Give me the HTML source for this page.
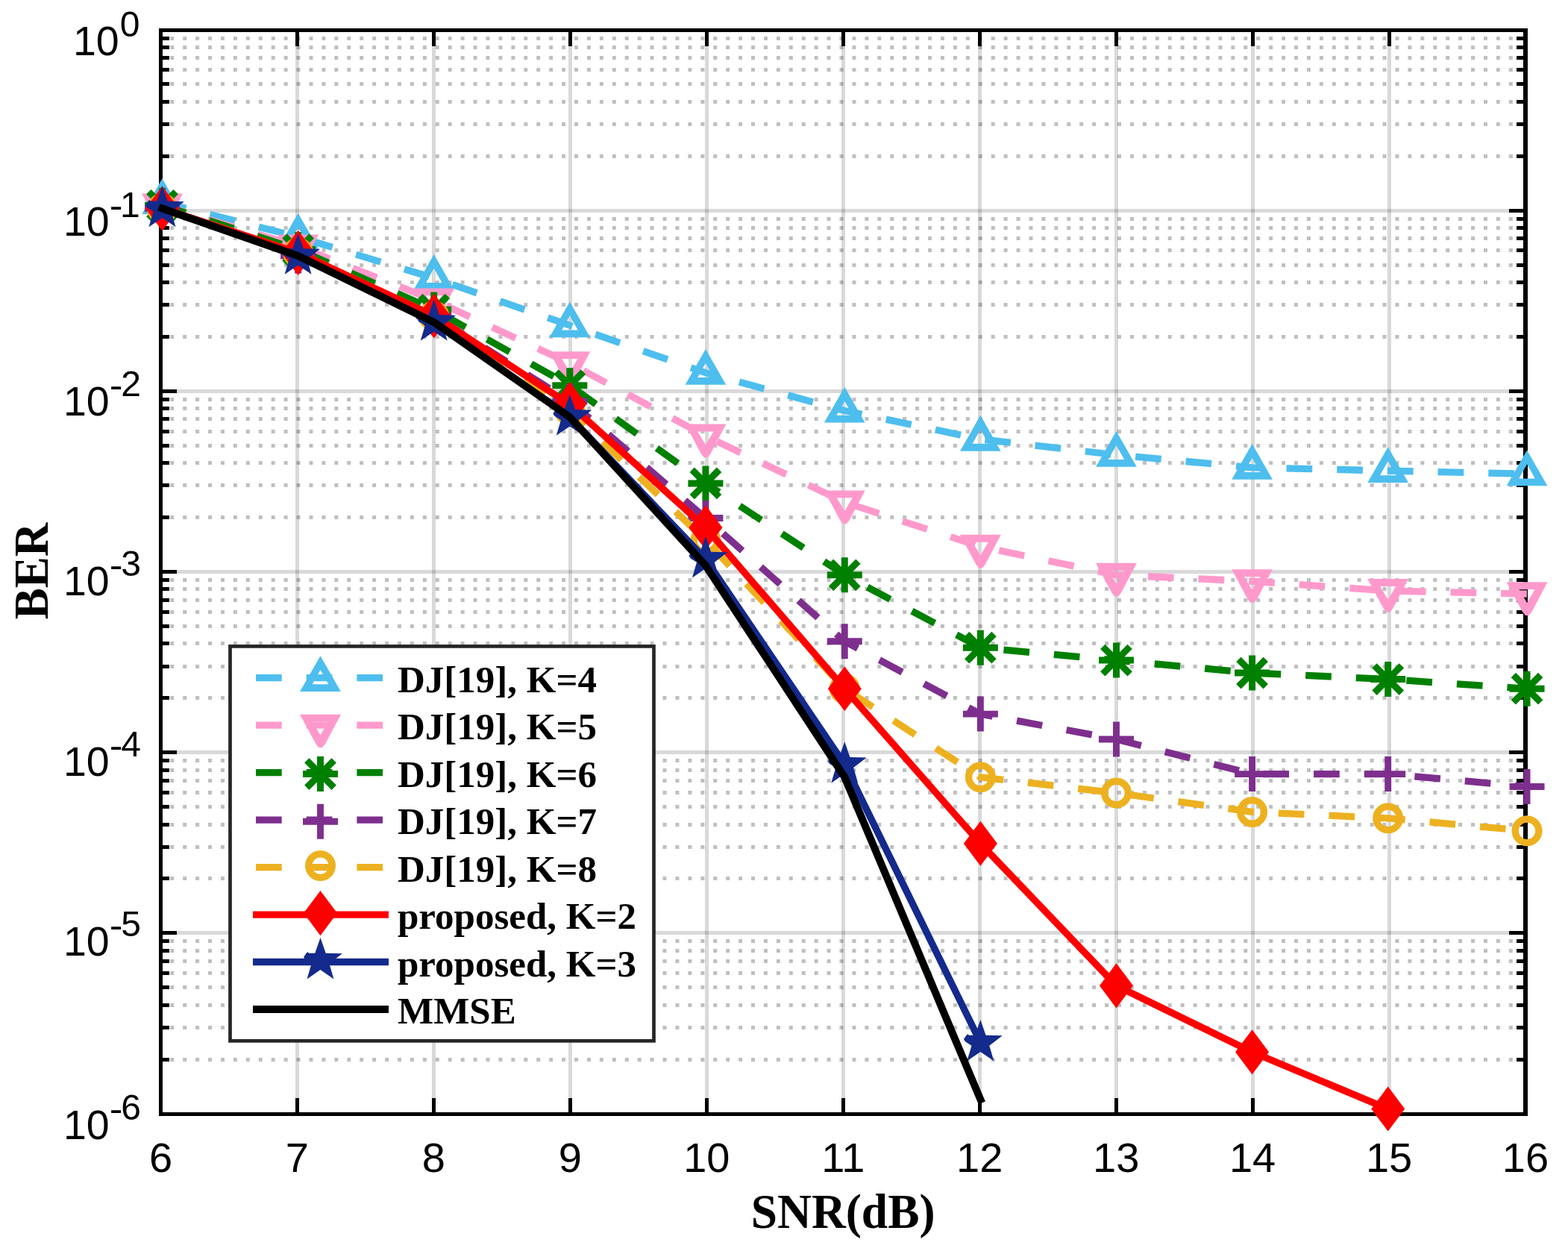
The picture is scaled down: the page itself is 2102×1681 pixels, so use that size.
<!DOCTYPE html>
<html><head><meta charset="utf-8"><title>BER vs SNR</title>
<style>html,body{margin:0;padding:0;background:#fff;}svg{display:block;}.tk{font-family:"Liberation Sans",Arial,sans-serif;}.lb{font-family:"Liberation Serif","Times New Roman",serif;font-weight:bold;}</style>
</head><body>
<svg xmlns="http://www.w3.org/2000/svg" width="2102" height="1681" viewBox="0 0 2102 1681">
<rect width="2102" height="1681" fill="#fff"/>
<g stroke="#000" stroke-opacity="0.25" stroke-width="5" stroke-dasharray="5 11.93"><path d="M228.25 209.5H2042"/><path d="M228.25 166.5H2042"/><path d="M228.25 136.5H2042"/><path d="M228.25 112.5H2042"/><path d="M228.25 93.5H2042"/><path d="M228.25 77.5H2042"/><path d="M228.25 63.5H2042"/><path d="M228.25 51.5H2042"/><path d="M228.25 451.5H2042"/><path d="M228.25 408.5H2042"/><path d="M228.25 378.5H2042"/><path d="M228.25 355.5H2042"/><path d="M228.25 335.5H2042"/><path d="M228.25 319.5H2042"/><path d="M228.25 305.5H2042"/><path d="M228.25 293.5H2042"/><path d="M228.25 693.5H2042"/><path d="M228.25 650.5H2042"/><path d="M228.25 620.5H2042"/><path d="M228.25 597.5H2042"/><path d="M228.25 578.5H2042"/><path d="M228.25 561.5H2042"/><path d="M228.25 547.5H2042"/><path d="M228.25 535.5H2042"/><path d="M228.25 935.5H2042"/><path d="M228.25 893.5H2042"/><path d="M228.25 862.5H2042"/><path d="M228.25 839.5H2042"/><path d="M228.25 820.5H2042"/><path d="M228.25 804.5H2042"/><path d="M228.25 789.5H2042"/><path d="M228.25 777.5H2042"/><path d="M228.25 1177.5H2042"/><path d="M228.25 1135.5H2042"/><path d="M228.25 1105.5H2042"/><path d="M228.25 1081.5H2042"/><path d="M228.25 1062.5H2042"/><path d="M228.25 1046.5H2042"/><path d="M228.25 1032.5H2042"/><path d="M228.25 1019.5H2042"/><path d="M228.25 1420.5H2042"/><path d="M228.25 1377.5H2042"/><path d="M228.25 1347.5H2042"/><path d="M228.25 1323.5H2042"/><path d="M228.25 1304.5H2042"/><path d="M228.25 1288.5H2042"/><path d="M228.25 1274.5H2042"/><path d="M228.25 1261.5H2042"/></g>
<g stroke="#000" stroke-opacity="0.15" stroke-width="5"><path d="M398.5 43V1491"/><path d="M581.5 43V1491"/><path d="M764.5 43V1491"/><path d="M947.5 43V1491"/><path d="M1130.5 43V1491"/><path d="M1313.5 43V1491"/><path d="M1496.5 43V1491"/><path d="M1679.5 43V1491"/><path d="M1862.5 43V1491"/><path d="M218 282.5H2042"/><path d="M218 524.5H2042"/><path d="M218 766.5H2042"/><path d="M218 1008.5H2042"/><path d="M218 1250.5H2042"/></g>
<g stroke="#000" stroke-width="5" fill="none"><path d="M213 40.5H2048M213 1493.5H2048M215.5 38V1496"/><path d="M2045 38V1496" stroke-width="6"/><path d="M398.5 1493.5V1472M398.5 40.5V62"/><path d="M581.5 1493.5V1472M581.5 40.5V62"/><path d="M764.5 1493.5V1472M764.5 40.5V62"/><path d="M947.5 1493.5V1472M947.5 40.5V62"/><path d="M1130.5 1493.5V1472M1130.5 40.5V62"/><path d="M1313.5 1493.5V1472M1313.5 40.5V62"/><path d="M1496.5 1493.5V1472M1496.5 40.5V62"/><path d="M1679.5 1493.5V1472M1679.5 40.5V62"/><path d="M1862.5 1493.5V1472M1862.5 40.5V62"/><path d="M215.5 282.5H237M2045 282.5H2023"/><path d="M215.5 524.5H237M2045 524.5H2023"/><path d="M215.5 766.5H237M2045 766.5H2023"/><path d="M215.5 1008.5H237M2045 1008.5H2023"/><path d="M215.5 1250.5H237M2045 1250.5H2023"/><path d="M215.5 209.5H227M2045 209.5H2033"/><path d="M215.5 166.5H227M2045 166.5H2033"/><path d="M215.5 136.5H227M2045 136.5H2033"/><path d="M215.5 112.5H227M2045 112.5H2033"/><path d="M215.5 93.5H227M2045 93.5H2033"/><path d="M215.5 77.5H227M2045 77.5H2033"/><path d="M215.5 63.5H227M2045 63.5H2033"/><path d="M215.5 51.5H227M2045 51.5H2033"/><path d="M215.5 451.5H227M2045 451.5H2033"/><path d="M215.5 408.5H227M2045 408.5H2033"/><path d="M215.5 378.5H227M2045 378.5H2033"/><path d="M215.5 355.5H227M2045 355.5H2033"/><path d="M215.5 335.5H227M2045 335.5H2033"/><path d="M215.5 319.5H227M2045 319.5H2033"/><path d="M215.5 305.5H227M2045 305.5H2033"/><path d="M215.5 293.5H227M2045 293.5H2033"/><path d="M215.5 693.5H227M2045 693.5H2033"/><path d="M215.5 650.5H227M2045 650.5H2033"/><path d="M215.5 620.5H227M2045 620.5H2033"/><path d="M215.5 597.5H227M2045 597.5H2033"/><path d="M215.5 578.5H227M2045 578.5H2033"/><path d="M215.5 561.5H227M2045 561.5H2033"/><path d="M215.5 547.5H227M2045 547.5H2033"/><path d="M215.5 535.5H227M2045 535.5H2033"/><path d="M215.5 935.5H227M2045 935.5H2033"/><path d="M215.5 893.5H227M2045 893.5H2033"/><path d="M215.5 862.5H227M2045 862.5H2033"/><path d="M215.5 839.5H227M2045 839.5H2033"/><path d="M215.5 820.5H227M2045 820.5H2033"/><path d="M215.5 804.5H227M2045 804.5H2033"/><path d="M215.5 789.5H227M2045 789.5H2033"/><path d="M215.5 777.5H227M2045 777.5H2033"/><path d="M215.5 1177.5H227M2045 1177.5H2033"/><path d="M215.5 1135.5H227M2045 1135.5H2033"/><path d="M215.5 1105.5H227M2045 1105.5H2033"/><path d="M215.5 1081.5H227M2045 1081.5H2033"/><path d="M215.5 1062.5H227M2045 1062.5H2033"/><path d="M215.5 1046.5H227M2045 1046.5H2033"/><path d="M215.5 1032.5H227M2045 1032.5H2033"/><path d="M215.5 1019.5H227M2045 1019.5H2033"/><path d="M215.5 1420.5H227M2045 1420.5H2033"/><path d="M215.5 1377.5H227M2045 1377.5H2033"/><path d="M215.5 1347.5H227M2045 1347.5H2033"/><path d="M215.5 1323.5H227M2045 1323.5H2033"/><path d="M215.5 1304.5H227M2045 1304.5H2033"/><path d="M215.5 1288.5H227M2045 1288.5H2033"/><path d="M215.5 1274.5H227M2045 1274.5H2033"/><path d="M215.5 1261.5H227M2045 1261.5H2033"/></g>
<polyline points="217.51,271.04 399.61,317.62 581.72,372.68 763.82,436.21 945.93,499.73 1132.27,550.55 1314.37,588.67 1496.48,609.84 1678.58,626.78 1860.69,631.02 2047.03,635.25" fill="none" stroke="#4DBEEE" stroke-width="9.3" stroke-linejoin="round" stroke-dasharray="34.7 33" stroke-dashoffset="1.75"/>
<path d="M217.51 239.24 L244.86 287.04 L190.16 287.04ZM217.51 258.14 L228.26 277.24 L206.76 277.24Z" fill="#4DBEEE" fill-rule="evenodd"/><path d="M399.61 285.82 L426.96 333.62 L372.26 333.62ZM399.61 304.73 L410.36 323.82 L388.86 323.82Z" fill="#4DBEEE" fill-rule="evenodd"/><path d="M581.72 340.88 L609.07 388.68 L554.37 388.68ZM581.72 359.78 L592.47 378.88 L570.97 378.88Z" fill="#4DBEEE" fill-rule="evenodd"/><path d="M763.82 404.41 L791.17 452.21 L736.47 452.21ZM763.82 423.31 L774.57 442.41 L753.07 442.41Z" fill="#4DBEEE" fill-rule="evenodd"/><path d="M945.93 467.93 L973.28 515.73 L918.58 515.73ZM945.93 486.83 L956.68 505.93 L935.18 505.93Z" fill="#4DBEEE" fill-rule="evenodd"/><path d="M1132.27 518.75 L1159.62 566.55 L1104.92 566.55ZM1132.27 537.65 L1143.02 556.75 L1121.52 556.75Z" fill="#4DBEEE" fill-rule="evenodd"/><path d="M1314.37 556.87 L1341.72 604.67 L1287.02 604.67ZM1314.37 575.77 L1325.12 594.87 L1303.62 594.87Z" fill="#4DBEEE" fill-rule="evenodd"/><path d="M1496.48 578.04 L1523.83 625.84 L1469.13 625.84ZM1496.48 596.94 L1507.23 616.04 L1485.73 616.04Z" fill="#4DBEEE" fill-rule="evenodd"/><path d="M1678.58 594.98 L1705.93 642.78 L1651.23 642.78ZM1678.58 613.88 L1689.33 632.98 L1667.83 632.98Z" fill="#4DBEEE" fill-rule="evenodd"/><path d="M1860.69 599.22 L1888.04 647.02 L1833.34 647.02ZM1860.69 618.12 L1871.44 637.22 L1849.94 637.22Z" fill="#4DBEEE" fill-rule="evenodd"/><path d="M2047.03 603.45 L2074.38 651.25 L2019.68 651.25ZM2047.03 622.35 L2057.78 641.45 L2036.28 641.45Z" fill="#4DBEEE" fill-rule="evenodd"/>
<polyline points="217.51,275.28 399.61,330.33 581.72,402.33 763.82,487.03 945.93,584.43 1132.27,673.37 1314.37,732.66 1496.48,770.77 1678.58,779.24 1860.69,791.95 2047.03,796.18" fill="none" stroke="#FF99CC" stroke-width="9.3" stroke-linejoin="round" stroke-dasharray="34.7 33" stroke-dashoffset="1.75"/>
<path d="M190.06 259.38 L244.96 259.38 L223.71 299.58 L219.91 304.08 L215.41 304.08 L211.71 299.58ZM206.96 269.28 L228.06 269.28 L217.51 287.08Z" fill="#FF99CC" fill-rule="evenodd"/><path d="M372.16 314.43 L427.06 314.43 L405.81 354.63 L402.01 359.13 L397.51 359.13 L393.81 354.63ZM389.06 324.33 L410.16 324.33 L399.61 342.13Z" fill="#FF99CC" fill-rule="evenodd"/><path d="M554.26 386.43 L609.17 386.43 L587.92 426.63 L584.12 431.13 L579.62 431.13 L575.92 426.63ZM571.17 396.33 L592.26 396.33 L581.72 414.13Z" fill="#FF99CC" fill-rule="evenodd"/><path d="M736.37 471.13 L791.27 471.13 L770.02 511.33 L766.22 515.83 L761.72 515.83 L758.02 511.33ZM753.27 481.03 L774.37 481.03 L763.82 498.83Z" fill="#FF99CC" fill-rule="evenodd"/><path d="M918.48 568.53 L973.38 568.53 L952.13 608.73 L948.33 613.23 L943.83 613.23 L940.13 608.73ZM935.38 578.43 L956.48 578.43 L945.93 596.23Z" fill="#FF99CC" fill-rule="evenodd"/><path d="M1104.82 657.47 L1159.72 657.47 L1138.47 697.66 L1134.67 702.16 L1130.17 702.16 L1126.47 697.66ZM1121.72 667.37 L1142.82 667.37 L1132.27 685.16Z" fill="#FF99CC" fill-rule="evenodd"/><path d="M1286.92 716.76 L1341.82 716.76 L1320.57 756.96 L1316.77 761.46 L1312.27 761.46 L1308.57 756.96ZM1303.82 726.66 L1324.92 726.66 L1314.37 744.46Z" fill="#FF99CC" fill-rule="evenodd"/><path d="M1469.03 754.87 L1523.93 754.87 L1502.68 795.07 L1498.88 799.57 L1494.38 799.57 L1490.68 795.07ZM1485.93 764.77 L1507.03 764.77 L1496.48 782.57Z" fill="#FF99CC" fill-rule="evenodd"/><path d="M1651.13 763.34 L1706.03 763.34 L1684.78 803.54 L1680.98 808.04 L1676.48 808.04 L1672.78 803.54ZM1668.03 773.24 L1689.13 773.24 L1678.58 791.04Z" fill="#FF99CC" fill-rule="evenodd"/><path d="M1833.24 776.05 L1888.14 776.05 L1866.89 816.25 L1863.09 820.75 L1858.59 820.75 L1854.89 816.25ZM1850.14 785.95 L1871.24 785.95 L1860.69 803.75Z" fill="#FF99CC" fill-rule="evenodd"/><path d="M2019.58 780.28 L2074.47 780.28 L2053.22 820.48 L2049.43 824.98 L2044.93 824.98 L2041.23 820.48ZM2036.48 790.18 L2057.58 790.18 L2047.03 807.98Z" fill="#FF99CC" fill-rule="evenodd"/>
<polyline points="217.51,275.28 399.61,334.56 581.72,415.03 763.82,516.67 945.93,647.96 1132.27,770.77 1314.37,868.18 1496.48,885.12 1678.58,902.06 1860.69,910.53 2047.03,923.23" fill="none" stroke="#008000" stroke-width="9.3" stroke-linejoin="round" stroke-dasharray="34.7 33" stroke-dashoffset="1.75"/>
<path d="M217.51 251.78V298.78M194.01 275.28H241.01M199.31 257.08L235.71 293.48M199.31 293.48L235.71 257.08" stroke="#008000" stroke-width="9" fill="none"/><path d="M399.61 311.06V358.06M376.11 334.56H423.11M381.41 316.37L417.81 352.76M381.41 352.76L417.81 316.37" stroke="#008000" stroke-width="9" fill="none"/><path d="M581.72 391.53V438.53M558.22 415.03H605.22M563.51 396.83L599.92 433.23M563.51 433.23L599.92 396.83" stroke="#008000" stroke-width="9" fill="none"/><path d="M763.82 493.17V540.17M740.32 516.67H787.32M745.62 498.47L782.02 534.87M745.62 534.87L782.02 498.47" stroke="#008000" stroke-width="9" fill="none"/><path d="M945.93 624.46V671.46M922.43 647.96H969.43M927.73 629.75L964.13 666.16M927.73 666.16L964.13 629.75" stroke="#008000" stroke-width="9" fill="none"/><path d="M1132.27 747.27V794.27M1108.77 770.77H1155.77M1114.07 752.57L1150.47 788.97M1114.07 788.97L1150.47 752.57" stroke="#008000" stroke-width="9" fill="none"/><path d="M1314.37 844.68V891.68M1290.87 868.18H1337.87M1296.17 849.98L1332.57 886.38M1296.17 886.38L1332.57 849.98" stroke="#008000" stroke-width="9" fill="none"/><path d="M1496.48 861.62V908.62M1472.98 885.12H1519.98M1478.28 866.92L1514.68 903.32M1478.28 903.32L1514.68 866.92" stroke="#008000" stroke-width="9" fill="none"/><path d="M1678.58 878.56V925.56M1655.08 902.06H1702.08M1660.38 883.86L1696.78 920.26M1660.38 920.26L1696.78 883.86" stroke="#008000" stroke-width="9" fill="none"/><path d="M1860.69 887.03V934.03M1837.19 910.53H1884.19M1842.49 892.33L1878.89 928.73M1842.49 928.73L1878.89 892.33" stroke="#008000" stroke-width="9" fill="none"/><path d="M2047.03 899.73V946.73M2023.53 923.23H2070.53M2028.83 905.03L2065.22 941.43M2028.83 941.43L2065.22 905.03" stroke="#008000" stroke-width="9" fill="none"/>
<polyline points="217.51,279.51 399.61,343.04 581.72,423.5 763.82,537.85 945.93,694.54 1132.27,859.71 1314.37,957.11 1496.48,990.99 1678.58,1037.58 1860.69,1037.58 2047.03,1054.52" fill="none" stroke="#7E2F8E" stroke-width="9.3" stroke-linejoin="round" stroke-dasharray="34.7 33" stroke-dashoffset="1.75"/>
<path d="M217.51 256.01V303.01M194.01 279.51H241.01" stroke="#7E2F8E" stroke-width="8.9" fill="none"/><path d="M399.61 319.54V366.54M376.11 343.04H423.11" stroke="#7E2F8E" stroke-width="8.9" fill="none"/><path d="M581.72 400V447M558.22 423.5H605.22" stroke="#7E2F8E" stroke-width="8.9" fill="none"/><path d="M763.82 514.35V561.35M740.32 537.85H787.32" stroke="#7E2F8E" stroke-width="8.9" fill="none"/><path d="M945.93 671.04V718.04M922.43 694.54H969.43" stroke="#7E2F8E" stroke-width="8.9" fill="none"/><path d="M1132.27 836.21V883.21M1108.77 859.71H1155.77" stroke="#7E2F8E" stroke-width="8.9" fill="none"/><path d="M1314.37 933.61V980.61M1290.87 957.11H1337.87" stroke="#7E2F8E" stroke-width="8.9" fill="none"/><path d="M1496.48 967.49V1014.49M1472.98 990.99H1519.98" stroke="#7E2F8E" stroke-width="8.9" fill="none"/><path d="M1678.58 1014.08V1061.08M1655.08 1037.58H1702.08" stroke="#7E2F8E" stroke-width="8.9" fill="none"/><path d="M1860.69 1014.08V1061.08M1837.19 1037.58H1884.19" stroke="#7E2F8E" stroke-width="8.9" fill="none"/><path d="M2047.03 1031.02V1078.02M2023.53 1054.52H2070.53" stroke="#7E2F8E" stroke-width="8.9" fill="none"/>
<polyline points="217.51,279.51 399.61,338.8 581.72,423.5 763.82,550.55 945.93,724.19 1132.27,923.23 1314.37,1041.81 1496.48,1062.99 1678.58,1088.39 1860.69,1096.87 2047.03,1113.81" fill="none" stroke="#EDB120" stroke-width="9.3" stroke-linejoin="round" stroke-dasharray="34.7 33" stroke-dashoffset="1.75"/>
<circle cx="217.51" cy="279.51" r="15.8" fill="none" stroke="#EDB120" stroke-width="9.4"/><circle cx="399.61" cy="338.8" r="15.8" fill="none" stroke="#EDB120" stroke-width="9.4"/><circle cx="581.72" cy="423.5" r="15.8" fill="none" stroke="#EDB120" stroke-width="9.4"/><circle cx="763.82" cy="550.55" r="15.8" fill="none" stroke="#EDB120" stroke-width="9.4"/><circle cx="945.93" cy="724.19" r="15.8" fill="none" stroke="#EDB120" stroke-width="9.4"/><circle cx="1132.27" cy="923.23" r="15.8" fill="none" stroke="#EDB120" stroke-width="9.4"/><circle cx="1314.37" cy="1041.81" r="15.8" fill="none" stroke="#EDB120" stroke-width="9.4"/><circle cx="1496.48" cy="1062.99" r="15.8" fill="none" stroke="#EDB120" stroke-width="9.4"/><circle cx="1678.58" cy="1088.39" r="15.8" fill="none" stroke="#EDB120" stroke-width="9.4"/><circle cx="1860.69" cy="1096.87" r="15.8" fill="none" stroke="#EDB120" stroke-width="9.4"/><circle cx="2047.03" cy="1113.81" r="15.8" fill="none" stroke="#EDB120" stroke-width="9.4"/>
<polyline points="217.51,279.51 399.61,338.8 581.72,423.5 763.82,542.08 945.93,707.25 1132.27,923.23 1314.37,1130.75 1496.48,1321.32 1678.58,1410.26 1860.69,1486.49" fill="none" stroke="#FF0000" stroke-width="9.3" stroke-linejoin="round"/>
<path d="M217.51 249.41 L240.01 279.51 L217.51 309.61 L195.01 279.51Z" fill="#FF0000"/><path d="M399.61 308.7 L422.11 338.8 L399.61 368.9 L377.11 338.8Z" fill="#FF0000"/><path d="M581.72 393.4 L604.22 423.5 L581.72 453.6 L559.22 423.5Z" fill="#FF0000"/><path d="M763.82 511.98 L786.32 542.08 L763.82 572.18 L741.32 542.08Z" fill="#FF0000"/><path d="M945.93 677.14 L968.43 707.25 L945.93 737.35 L923.43 707.25Z" fill="#FF0000"/><path d="M1132.27 893.13 L1154.77 923.23 L1132.27 953.33 L1109.77 923.23Z" fill="#FF0000"/><path d="M1314.37 1100.65 L1336.87 1130.75 L1314.37 1160.85 L1291.87 1130.75Z" fill="#FF0000"/><path d="M1496.48 1291.22 L1518.98 1321.32 L1496.48 1351.42 L1473.98 1321.32Z" fill="#FF0000"/><path d="M1678.58 1380.16 L1701.08 1410.26 L1678.58 1440.36 L1656.08 1410.26Z" fill="#FF0000"/><path d="M1860.69 1456.39 L1883.19 1486.49 L1860.69 1516.59 L1838.19 1486.49Z" fill="#FF0000"/>
<polyline points="217.51,279.51 399.61,343.04 581.72,431.97 763.82,559.02 945.93,749.6 1132.27,1024.87 1314.37,1397.55" fill="none" stroke="#142A8C" stroke-width="9.3" stroke-linejoin="round"/>
<path d="M217.51 248.91 L224.71 269.61 L246.91 270.21 L229.41 283.71 L235.51 304.31 L217.51 292.01 L199.51 304.31 L205.61 283.71 L197.11 278.31 L195.11 274.91 L199.01 269.11 L200.71 268.21 L202.11 269.61 L210.31 269.61Z" fill="#142A8C"/><path d="M399.61 312.44 L406.81 333.14 L429.01 333.74 L411.51 347.24 L417.61 367.84 L399.61 355.54 L381.61 367.84 L387.71 347.24 L379.21 341.84 L377.21 338.44 L381.11 332.64 L382.81 331.74 L384.21 333.14 L392.41 333.14Z" fill="#142A8C"/><path d="M581.72 401.37 L588.92 422.07 L611.12 422.67 L593.62 436.17 L599.72 456.77 L581.72 444.47 L563.72 456.77 L569.82 436.17 L561.32 430.77 L559.32 427.37 L563.22 421.57 L564.92 420.67 L566.32 422.07 L574.51 422.07Z" fill="#142A8C"/><path d="M763.82 528.42 L771.02 549.12 L793.22 549.72 L775.72 563.22 L781.82 583.82 L763.82 571.52 L745.82 583.82 L751.92 563.22 L743.42 557.82 L741.42 554.42 L745.32 548.62 L747.02 547.72 L748.42 549.12 L756.62 549.12Z" fill="#142A8C"/><path d="M945.93 719 L953.13 739.7 L975.33 740.3 L957.83 753.8 L963.93 774.39 L945.93 762.1 L927.93 774.39 L934.03 753.8 L925.53 748.39 L923.53 745 L927.43 739.2 L929.13 738.3 L930.53 739.7 L938.73 739.7Z" fill="#142A8C"/><path d="M1132.27 994.27 L1139.47 1014.97 L1161.67 1015.57 L1144.17 1029.07 L1150.27 1049.67 L1132.27 1037.37 L1114.27 1049.67 L1120.37 1029.07 L1111.87 1023.67 L1109.87 1020.27 L1113.77 1014.47 L1115.47 1013.57 L1116.87 1014.97 L1125.07 1014.97Z" fill="#142A8C"/><path d="M1314.37 1366.95 L1321.57 1387.65 L1343.77 1388.25 L1326.27 1401.75 L1332.37 1422.35 L1314.37 1410.05 L1296.37 1422.35 L1302.47 1401.75 L1293.97 1396.35 L1291.97 1392.95 L1295.87 1387.15 L1297.57 1386.25 L1298.97 1387.65 L1307.17 1387.65Z" fill="#142A8C"/>
<polyline points="217.51,279.51 399.61,343.04 581.72,431.97 763.82,559.02 945.93,758.07 1132.27,1041.81 1314.37,1473.78" fill="none" stroke="#000000" stroke-width="10" stroke-linejoin="round" stroke-linecap="square"/>
<g class="tk" fill="#000" font-size="56" text-anchor="middle"><text x="215.5" y="1571">6</text><text x="398.45" y="1571">7</text><text x="581.4" y="1571">8</text><text x="764.35" y="1571">9</text><text x="947.3" y="1571">10</text><text x="1130.25" y="1571">11</text><text x="1313.2" y="1571">12</text><text x="1496.15" y="1571">13</text><text x="1679.1" y="1571">14</text><text x="1862.05" y="1571">15</text><text x="2045" y="1571">16</text></g>
<g class="tk" fill="#000"><text x="97.9" y="74" font-size="55.5">10</text><text x="174.2" y="48.5" font-size="48" text-anchor="middle">0</text><text x="84.9" y="316" font-size="55.5">10</text><text transform="translate(146.64 291.8) scale(1.11 1)" font-size="48">-</text><text x="174.3" y="290.5" font-size="48" text-anchor="middle">1</text><text x="84.9" y="556.9" font-size="55.5">10</text><text transform="translate(146.64 532.7) scale(1.11 1)" font-size="48">-</text><text x="175.6" y="531.4" font-size="48" text-anchor="middle">2</text><text x="84.9" y="797.8" font-size="55.5">10</text><text transform="translate(146.64 773.6) scale(1.11 1)" font-size="48">-</text><text x="175.6" y="772.3" font-size="48" text-anchor="middle">3</text><text x="84.9" y="1039.9" font-size="55.5">10</text><text transform="translate(146.64 1015.7) scale(1.11 1)" font-size="48">-</text><text x="175.6" y="1014.4" font-size="48" text-anchor="middle">4</text><text x="84.9" y="1280.8" font-size="55.5">10</text><text transform="translate(146.64 1256.6) scale(1.11 1)" font-size="48">-</text><text x="175.6" y="1255.3" font-size="48" text-anchor="middle">5</text><text x="84.9" y="1526.8" font-size="55.5">10</text><text transform="translate(146.64 1502.6) scale(1.11 1)" font-size="48">-</text><text x="175.6" y="1501.3" font-size="48" text-anchor="middle">6</text></g>
<text class="lb" font-size="65" text-anchor="middle" transform="translate(1130.2 1646) scale(0.976 1)">SNR(dB)</text>
<text class="lb" font-size="65" text-anchor="middle" transform="translate(64 765.5) rotate(-90) scale(0.97 1)">BER</text>
<rect x="308.5" y="866.4" width="568" height="528.9" fill="#fff" stroke="#262626" stroke-width="4.7"/>
<path d="M343 908.7H513" stroke="#4DBEEE" stroke-width="9.3" stroke-dasharray="34.7 33"/>
<path d="M429.5 879.2 L456.85 927 L402.15 927ZM429.5 898.1 L440.25 917.2 L418.75 917.2Z" fill="#4DBEEE" fill-rule="evenodd"/>
<text class="lb" font-size="51" x="533" y="927.7">DJ[19], K=4</text>
<path d="M343 972.17H513" stroke="#FF99CC" stroke-width="9.3" stroke-dasharray="34.7 33"/>
<path d="M402.05 957.67 L456.95 957.67 L435.7 997.87 L431.9 1002.37 L427.4 1002.37 L423.7 997.87ZM418.95 967.57 L440.05 967.57 L429.5 985.37Z" fill="#FF99CC" fill-rule="evenodd"/>
<text class="lb" font-size="51" x="533" y="991.17">DJ[19], K=5</text>
<path d="M343 1035.64H513" stroke="#008000" stroke-width="9.3" stroke-dasharray="34.7 33"/>
<path d="M429.5 1014.04V1061.04M406 1037.54H453M411.3 1019.34L447.7 1055.74M411.3 1055.74L447.7 1019.34" stroke="#008000" stroke-width="9" fill="none"/>
<text class="lb" font-size="51" x="533" y="1054.64">DJ[19], K=6</text>
<path d="M343 1099.11H513" stroke="#7E2F8E" stroke-width="9.3" stroke-dasharray="34.7 33"/>
<path d="M429.5 1077.71V1124.71M406 1101.21H453" stroke="#7E2F8E" stroke-width="8.9" fill="none"/>
<text class="lb" font-size="51" x="533" y="1118.11">DJ[19], K=7</text>
<path d="M343 1162.58H513" stroke="#EDB120" stroke-width="9.3" stroke-dasharray="34.7 33"/>
<circle cx="429.5" cy="1160.58" r="15.8" fill="none" stroke="#EDB120" stroke-width="9.4"/>
<text class="lb" font-size="51" x="533" y="1181.58">DJ[19], K=8</text>
<path d="M339 1226.05H521" stroke="#FF0000" stroke-width="9.3"/>
<path d="M429.5 1193.95 L452 1224.05 L429.5 1254.15 L407 1224.05Z" fill="#FF0000"/>
<text class="lb" font-size="51" x="533" y="1245.05">proposed, K=2</text>
<path d="M339 1289.52H521" stroke="#142A8C" stroke-width="9.3"/>
<path d="M429.5 1257.02 L436.7 1277.72 L458.9 1278.32 L441.4 1291.82 L447.5 1312.42 L429.5 1300.12 L411.5 1312.42 L417.6 1291.82 L409.1 1286.42 L407.1 1283.02 L411 1277.22 L412.7 1276.32 L414.1 1277.72 L422.3 1277.72Z" fill="#142A8C"/>
<text class="lb" font-size="51" x="533" y="1308.52">proposed, K=3</text>
<path d="M339 1352.99H521" stroke="#000000" stroke-width="10"/>
<text class="lb" font-size="51" x="533" y="1371.99">MMSE</text>
</svg></body></html>
